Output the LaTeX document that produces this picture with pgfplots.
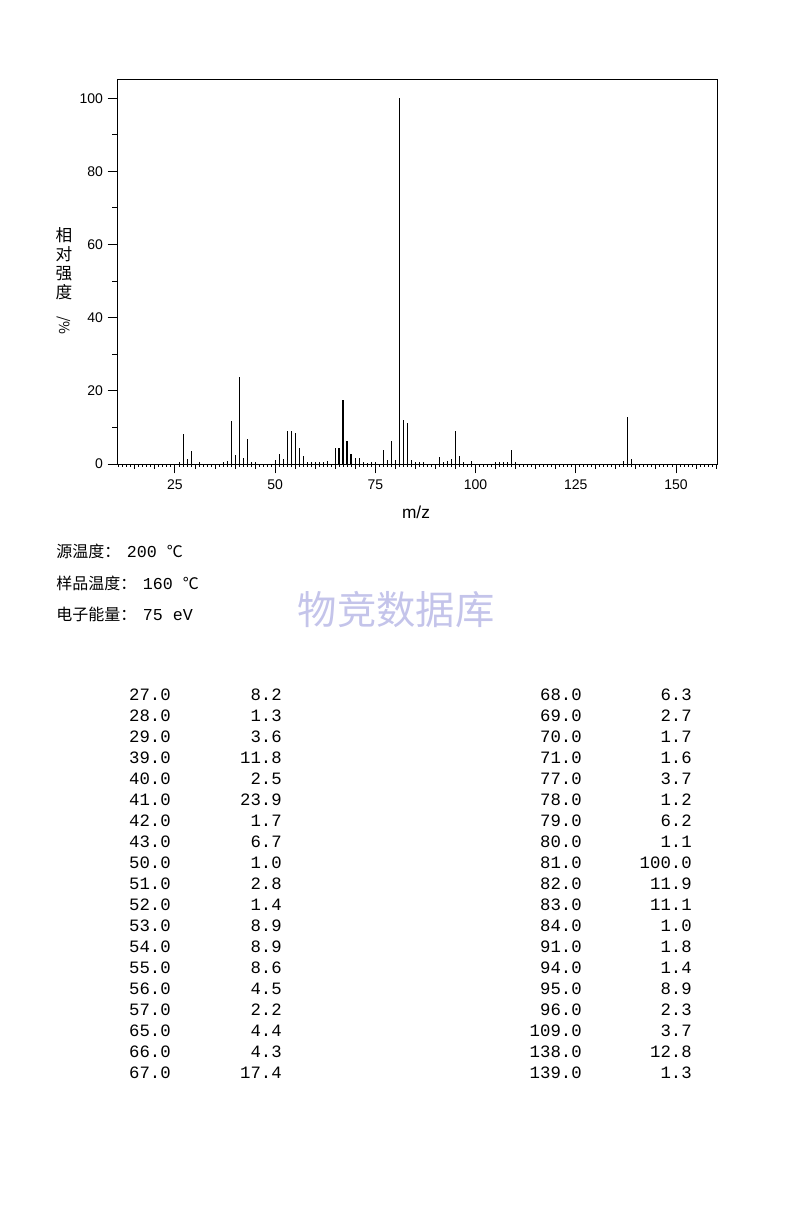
\documentclass[border=0pt]{standalone}
\usepackage{fontspec}
\setmainfont{Liberation Sans}
\setmonofont{Liberation Mono}
\newfontfamily\cjk{Noto Sans CJK SC}
\usepackage{graphicx}
\usepackage{pgfplots}
\pgfplotsset{compat=1.18}

\definecolor{wmark}{RGB}{196,196,234}

\begin{document}
\begin{tikzpicture}
% page frame in reference pixels (1px = 0.75pt)
\path (0,0) rectangle (595.5pt,-914.25pt);

\begin{axis}[
    at={(87.75pt,-348pt)}, anchor=south west,
    scale only axis,
    width=450pt, height=288pt,
    xmin=10.53, xmax=160.23,
    ymin=0, ymax=105,
    axis line style={line width=0.75pt},
    tick style={black, line width=0.75pt},
    tick align=outside,
    xtick pos=bottom, ytick pos=left,
    xtick={25,50,...,150},
    minor xtick={11,...,160},
    ytick={0,20,...,100},
    major tick length=7pt,
    minor tick length=2pt,
    extra x ticks={15,20,30,35,40,45,55,60,65,70,80,85,90,95,105,110,115,120,130,135,140,145,155,160},
    extra x tick labels={},
    extra x tick style={major tick length=3.75pt},
    extra y ticks={10,30,50,70,90},
    extra y tick labels={},
    extra y tick style={major tick length=3.75pt},
    ticklabel style={font=\fontsize{10.5}{12}\selectfont},
    /pgf/number format/assume math mode=true,
    xticklabel style={yshift=-1pt},
]
% peaks listed in the table
\addplot[ycomb, black, line width=0.75pt, mark=none] coordinates {
(27,8.2)(28,1.3)(29,3.6)(39,11.8)(40,2.5)(41,23.9)(42,1.7)(43,6.7)
(50,1.0)(51,2.8)(52,1.4)(53,8.9)(54,8.9)(55,8.6)(56,4.5)(57,2.2)
(65,4.4)(70,1.7)(71,1.6)(77,3.7)(78,1.2)(79,6.2)(80,1.1)(81,100.0)
(82,11.9)(83,11.1)(84,1.0)(91,1.8)(94,1.4)(95,8.9)(96,2.3)(109,3.7)
(138,12.8)(139,1.3)};
% the 66-69 group is drawn heavier in the reference
\addplot[ycomb, black, line width=1.6pt, mark=none] coordinates {
(66,4.3)(67,17.4)(68,6.3)(69,2.7)};
% small peaks below 1 %
\addplot[ycomb, black, line width=0.75pt, mark=none] coordinates {
(26,0.6)(31,0.6)(37,0.5)(38,0.7)(44,0.5)(45,0.5)(58,0.5)(59,0.5)
(60,0.5)(61,0.5)(62,0.5)(63,0.9)(72,0.5)(73,0.4)(74,0.5)(75,0.6)
(85,0.6)(86,0.5)(87,0.5)(92,0.5)(93,0.8)(97,0.6)(99,0.9)(105,0.5)
(106,0.6)(107,0.6)(108,0.6)(110,0.5)(137,0.9)};
\end{axis}

\begin{scope}[x=0.75pt, y=-0.75pt]
% axis titles
\node[font=\fontsize{13}{14}\selectfont] at (416,512) {m/z};
\node[align=center, font=\cjk\fontsize{12.5}{14.25}\selectfont, inner sep=0] at (64,281)
    {相\\对\\强\\度\\[-1pt]\rotatebox{-90}{\fontsize{10.5}{12}\selectfont /\%}};

% run conditions
\node[anchor=west, inner sep=0, font=\fontsize{12}{14}\selectfont] at (56,551)
    {{\cjk 源温度：}\hspace{5pt}{\ttfamily\fontsize{12.5}{14}\selectfont 200 }{\cjk ℃}};
\node[anchor=west, inner sep=0, font=\fontsize{12}{14}\selectfont] at (56,583)
    {{\cjk 样品温度：}\hspace{5pt}{\ttfamily\fontsize{12.5}{14}\selectfont 160 }{\cjk ℃}};
\node[anchor=west, inner sep=0, font=\fontsize{12}{14}\selectfont] at (56,614)
    {{\cjk 电子能量：}\hspace{5pt}{\ttfamily\fontsize{12.5}{14}\selectfont 75 eV}};

% watermark
\node[text=wmark, font=\cjk\fontsize{29.5}{30}\selectfont, inner sep=0] at (396,610) {物竞数据库};

% peak table
\foreach \a/\b [count=\i from 0] in {27.0/8.2, 28.0/1.3, 29.0/3.6, 39.0/11.8,
    40.0/2.5, 41.0/23.9, 42.0/1.7, 43.0/6.7, 50.0/1.0, 51.0/2.8, 52.0/1.4,
    53.0/8.9, 54.0/8.9, 55.0/8.6, 56.0/4.5, 57.0/2.2, 65.0/4.4, 66.0/4.3, 67.0/17.4} {
  \node[anchor=east, inner sep=0, font=\ttfamily\fontsize{13}{14}\selectfont] at (171,695+21*\i) {\a};
  \node[anchor=east, inner sep=0, font=\ttfamily\fontsize{13}{14}\selectfont] at (282,695+21*\i) {\b};
}
\foreach \a/\b [count=\i from 0] in {68.0/6.3, 69.0/2.7, 70.0/1.7, 71.0/1.6,
    77.0/3.7, 78.0/1.2, 79.0/6.2, 80.0/1.1, 81.0/100.0, 82.0/11.9, 83.0/11.1,
    84.0/1.0, 91.0/1.8, 94.0/1.4, 95.0/8.9, 96.0/2.3, 109.0/3.7, 138.0/12.8, 139.0/1.3} {
  \node[anchor=east, inner sep=0, font=\ttfamily\fontsize{13}{14}\selectfont] at (582,695+21*\i) {\a};
  \node[anchor=east, inner sep=0, font=\ttfamily\fontsize{13}{14}\selectfont] at (692,695+21*\i) {\b};
}
\end{scope}
\end{tikzpicture}
\end{document}
